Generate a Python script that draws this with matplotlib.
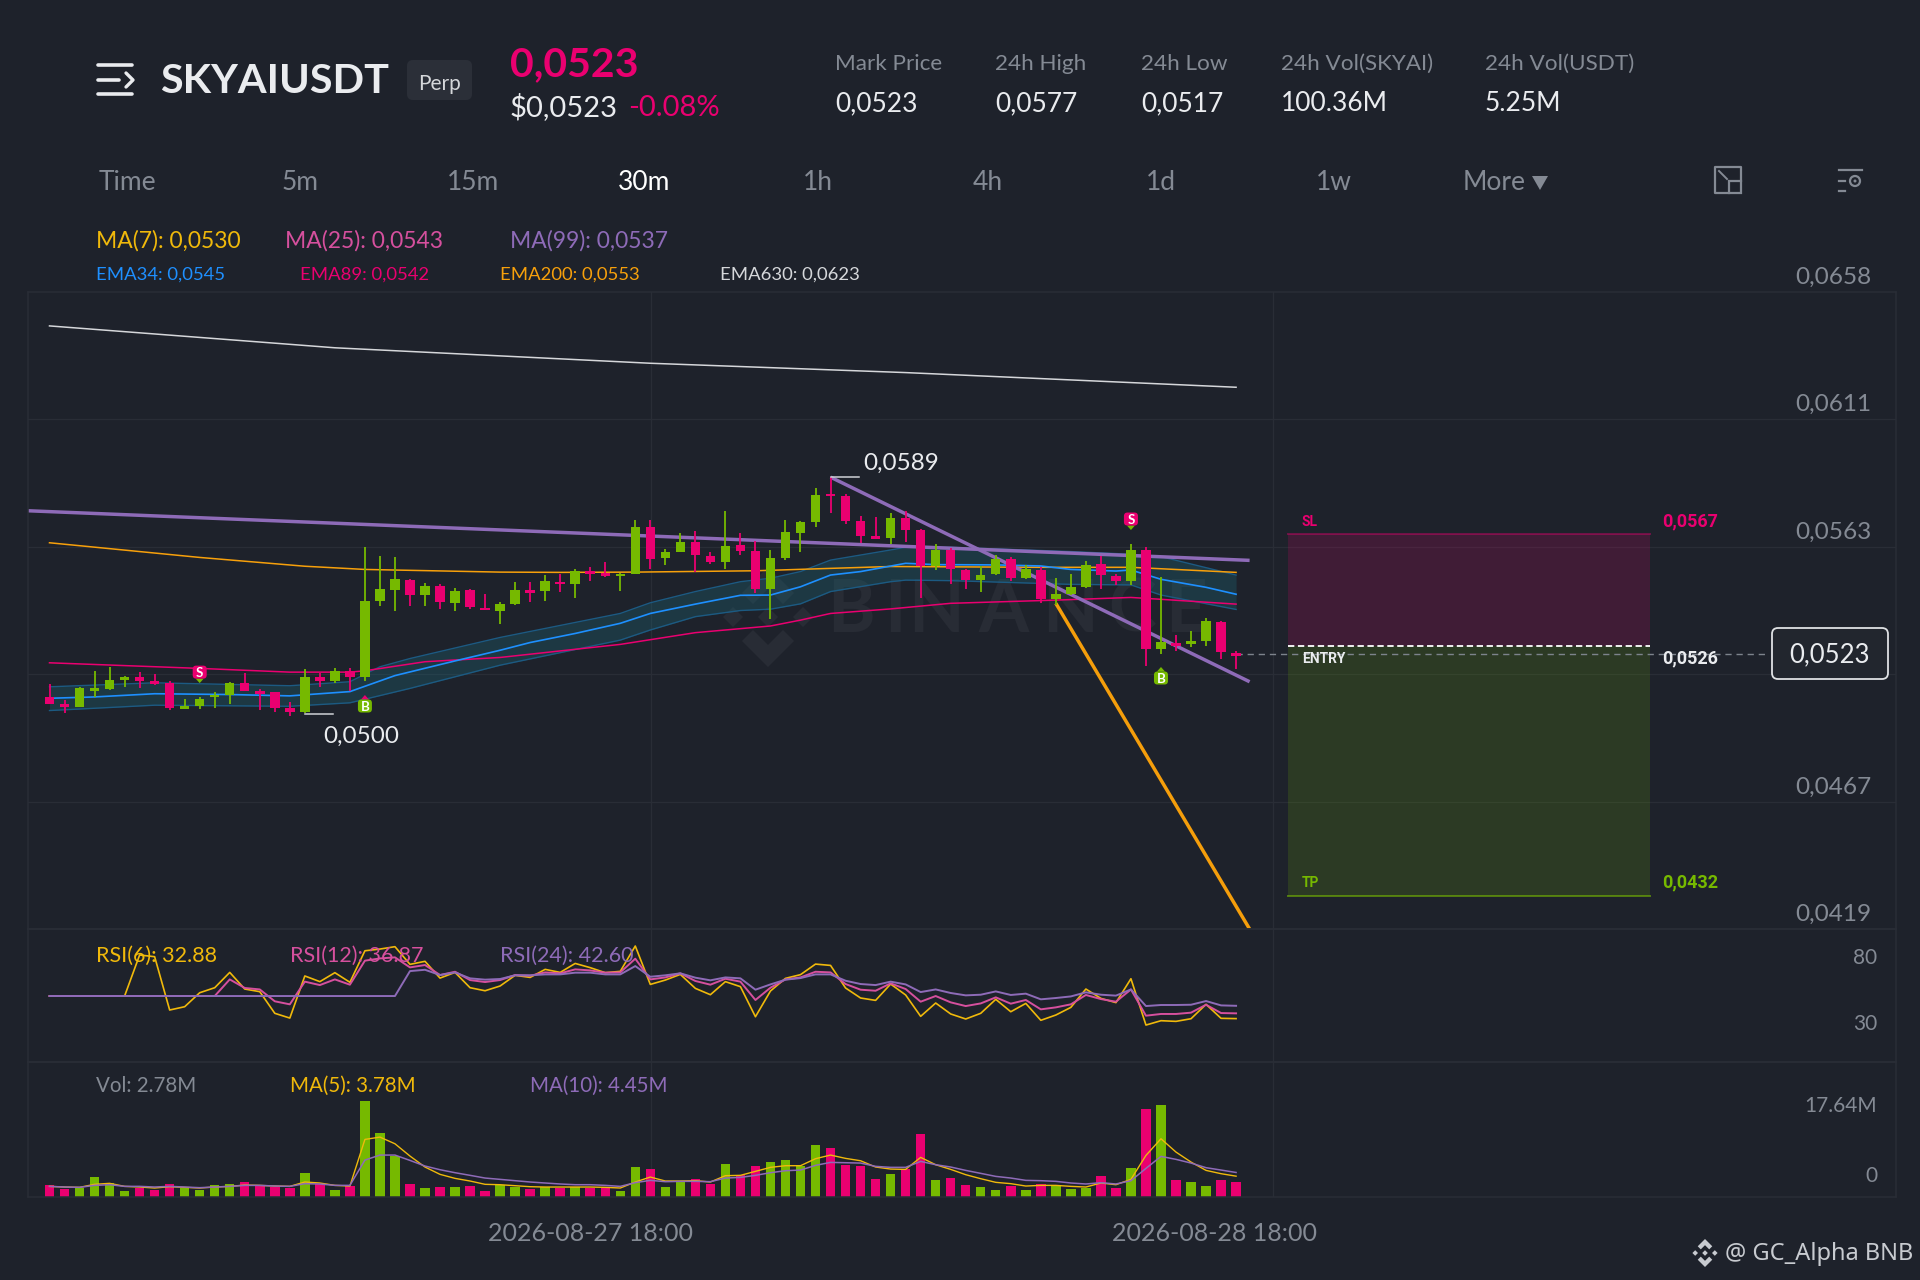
import numpy as np
import matplotlib
matplotlib.use("Agg")
import matplotlib.pyplot as plt
from matplotlib.patches import FancyBboxPatch, Polygon, Circle, Rectangle

W, H = 1920, 1280
BG = '#1e222b'
GRID = '#292d36'
UP = '#76b900'
DOWN = '#ea0070'
PURPLE = '#8e6bb8'
GREY = '#848a94'
plt.rcParams['font.family'] = ['Lato', 'DejaVu Sans']

# ----------------- velas (precio x 1e5) -----------------
directions = ("RRGGGGRRRGGGGRRRRGRGRGGGRGRGRR"
              "GGRGRGRRGGRGGRRGRRGGGGRRRR"
              "GRRGRRGGRGRGGGRRGRGRGGRR")
highs = [5110, 5050, 5098, 5158, 5173, 5138, 5153, 5145, 5119, 5054, 5060, 5078, 5117, 5150, 5088,
         5078, 5040, 5166, 5150, 5167, 5167, 5623, 5590, 5583, 5502, 5487, 5483, 5467, 5464, 5446,
         5416, 5490, 5491, 5516, 5521, 5538, 5547, 5566, 5524, 5725, 5722, 5615, 5674, 5682, 5605,
         5756, 5676, 5643, 5610, 5722, 5721, 5844, 5884, 5822, 5739, 5736,
         5751, 5757, 5691, 5632, 5619, 5540, 5550, 5591, 5585, 5554, 5549, 5506, 5522, 5570, 5590,
         5522, 5632, 5621, 5508, 5291, 5307, 5356, 5344, 5231]
body_tops = [5061, 5034, 5092, 5093, 5122, 5133, 5133, 5118, 5114, 5026, 5054, 5067, 5114, 5114, 5082,
             5077, 5020, 5133, 5134, 5158, 5157, 5419, 5463, 5502, 5498, 5477, 5475, 5459, 5462, 5395,
             5407, 5460, 5460, 5494, 5492, 5534, 5531, 5524, 5522, 5696, 5696, 5604, 5642, 5642, 5590,
             5625, 5628, 5607, 5580, 5677, 5716, 5817, 5822, 5812, 5720, 5662,
             5731, 5731, 5685, 5612, 5612, 5537, 5518, 5577, 5576, 5539, 5537, 5446, 5472, 5556, 5557,
             5513, 5611, 5611, 5265, 5261, 5271, 5344, 5342, 5223]
body_bottoms = [5034, 5022, 5023, 5083, 5089, 5122, 5120, 5108, 5019, 5016, 5026, 5058, 5069, 5083, 5072,
                5019, 5004, 5003, 5119, 5119, 5136, 5136, 5420, 5460, 5442, 5442, 5417, 5414, 5397, 5387,
                5384, 5410, 5450, 5457, 5482, 5485, 5521, 5514, 5514, 5522, 5577, 5582, 5605, 5591, 5567,
                5567, 5608, 5465, 5465, 5582, 5676, 5714, 5812, 5721, 5665, 5652,
                5656, 5686, 5552, 5551, 5540, 5497, 5497, 5521, 5507, 5505, 5427, 5427, 5447, 5472, 5518,
                5496, 5496, 5241, 5241, 5251, 5260, 5270, 5227, 5215]
lows = [5034, 4998, 5023, 5060, 5087, 5098, 5095, 5104, 5012, 5014, 5014, 5017, 5033, 5082, 5010,
        5003, 4990, 4998, 5098, 5114, 5084, 5120, 5402, 5383, 5402, 5402, 5390, 5383, 5388, 5385,
        5334, 5404, 5417, 5421, 5455, 5431, 5494, 5511, 5457, 5522, 5540, 5556, 5604, 5530, 5557,
        5541, 5593, 5449, 5352, 5575, 5605, 5697, 5749, 5709, 5636, 5651,
        5634, 5641, 5430, 5535, 5484, 5465, 5452, 5518, 5493, 5501, 5411, 5405, 5441, 5470, 5465,
        5479, 5480, 5177, 5222, 5232, 5247, 5251, 5203, 5165]

# ----------------- medias -----------------
ema630_idx = [1, 20, 41, 58, 80]
ema630 = [6451, 6369, 6311, 6276, 6221]

ema200_idx = [1, 11, 18, 22, 31, 35, 40, 48, 53, 57, 67, 73, 80]
ema200 = [5638, 5583, 5550, 5538, 5528, 5527, 5528, 5533, 5542, 5549, 5546, 5546, 5527]

ema89_idx = [1, 11, 17, 21, 22, 26, 31, 39, 44, 49, 51, 53, 57, 61, 68, 73, 75, 80]
ema89 = [5188, 5167, 5153, 5153, 5158, 5192, 5208, 5257, 5301, 5326, 5348, 5373, 5390, 5411, 5423,
         5433, 5426, 5408]

ema34_idx = [1, 4, 8, 13, 17, 21, 24, 28, 31, 33, 36, 39, 41, 44, 47, 49, 51, 53, 55, 58, 60, 64, 67,
             69, 72, 73, 75, 78, 80]
ema34 = [5055, 5060, 5072, 5069, 5064, 5080, 5140, 5195, 5235, 5264, 5298, 5336, 5373, 5408, 5441,
         5442, 5473, 5517, 5530, 5561, 5556, 5555, 5551, 5538, 5532, 5536, 5501, 5471, 5445]

band_idx = [1, 8, 17, 21, 23, 25, 31, 39, 41, 44, 47, 49, 51, 53, 57, 58, 61, 69, 73, 75, 80]
band_upper = [5098, 5113, 5102, 5117, 5173, 5204, 5283, 5373, 5413, 5455, 5492, 5505, 5530, 5573, 5611,
              5621, 5621, 5605, 5595, 5586, 5517]
band_lower = [5009, 5029, 5025, 5038, 5065, 5092, 5179, 5273, 5311, 5361, 5384, 5389, 5409, 5455, 5492,
              5498, 5496, 5482, 5480, 5442, 5388]

# dibujos sobre el grafico: (indice, precio x 1e5)
trend_flat = ([-0.43, 80.9], [5758, 5572])
trend_down = ([53, 80.9], [5884, 5117])
trend_orange = ([68, 80.9], [5411, 4190])

# ----------------- RSI -----------------
rsi6 = [50.0, 50.0, 50.0, 50.0, 50.0, 50.0, 81.1, 79.8, 39.4, 41.9, 52.5, 56.3, 67.9, 55.3, 53.3, 36.9,
        33.3, 65.2, 60.9, 67.7, 60.4, 84.3, 85.6, 87.4, 74.0, 76.3, 63.6, 67.9, 56.3, 54.0, 57.6, 65.7,
        64.1, 70.2, 67.9, 74.7, 71.5, 67.7, 68.7, 87.9, 58.8, 62.1, 66.4, 55.8, 51.0, 60.9, 57.1, 34.3,
        53.8, 63.4, 66.2, 74.2, 73.2, 56.1, 48.5, 46.7, 59.1, 50.8, 34.6, 44.7, 36.4, 32.6, 36.9, 47.5,
        38.1, 44.4, 31.6, 35.6, 41.4, 55.3, 48.2, 45.0, 63.1, 28.0, 31.3, 30.8, 32.8, 43.7, 33.1, 32.88]
rsi12 = [50.0, 50.0, 50.0, 50.0, 50.0, 50.0, 50.0, 50.0, 50.0, 50.0, 50.0, 50.0, 62.6, 56.1, 55.0, 46.0,
         43.7, 60.9, 58.3, 62.6, 58.6, 76.8, 78.5, 79.3, 71.7, 73.5, 65.9, 68.4, 62.1, 60.6, 62.1, 65.9,
         65.4, 67.9, 67.2, 70.2, 69.4, 67.7, 67.9, 78.3, 62.6, 64.1, 67.2, 61.4, 58.6, 63.1, 60.9, 47.0,
         56.3, 62.6, 64.1, 68.4, 67.9, 59.1, 54.8, 54.0, 59.6, 55.3, 45.7, 50.0, 45.2, 42.4, 44.4, 49.0,
         44.2, 47.0, 39.9, 41.4, 43.7, 50.8, 47.7, 45.7, 55.0, 35.1, 36.4, 36.4, 37.4, 43.4, 37.1, 36.87]
rsi24 = [50.0, 50.0, 50.0, 50.0, 50.0, 50.0, 50.0, 50.0, 50.0, 50.0, 50.0, 50.0, 50.0, 50.0, 50.0, 50.0,
         50.0, 50.0, 50.0, 50.0, 50.0, 50.0, 50.0, 50.0, 68.9, 69.9, 65.9, 67.9, 63.4, 62.4, 62.9, 65.7,
         65.7, 66.4, 66.4, 67.7, 67.7, 66.4, 66.4, 72.7, 64.6, 65.7, 67.2, 63.9, 61.9, 64.1, 63.4, 54.8,
         58.8, 62.4, 63.6, 66.4, 66.4, 61.6, 59.1, 58.3, 60.9, 58.8, 53.0, 55.0, 52.3, 50.5, 51.0, 53.5,
         50.8, 51.8, 47.5, 48.5, 49.7, 52.8, 51.0, 50.3, 55.0, 42.4, 43.2, 43.2, 43.4, 46.2, 42.9, 42.6]

# ----------------- volumen (millones) -----------------
volume = [2.23, 1.51, 1.57, 3.56, 2.54, 1.15, 1.63, 1.21, 2.36, 1.57, 1.27, 2.17, 2.30, 2.66, 1.93, 1.75,
          1.63, 4.41, 2.30, 1.33, 1.93, 17.46, 11.66, 7.43, 2.42, 1.63, 1.75, 1.87, 1.93, 1.15, 2.11, 1.75,
          1.51, 1.75, 1.57, 1.81, 1.63, 1.63, 1.15, 5.44, 5.13, 1.81, 2.72, 3.26, 2.42, 5.98, 4.05, 5.62,
          6.40, 6.70, 5.62, 9.36, 8.88, 5.86, 5.68, 3.20, 4.11, 5.13, 11.42, 3.14, 3.44, 2.11, 1.81, 1.33,
          1.93, 1.33, 2.42, 2.11, 1.39, 1.63, 3.74, 1.69, 5.32, 15.95, 16.73, 3.14, 2.72, 2.05, 3.14, 2.78]
vol_ma5 = [1.93, 1.81, 1.75, 2.30, 2.48, 1.93, 1.81, 1.63, 1.87, 1.75, 1.63, 1.81, 1.93, 2.17, 2.11, 1.99,
           1.93, 2.72, 2.54, 2.11, 1.99, 10.45, 10.87, 9.66, 7.43, 5.44, 4.11, 3.38, 2.90, 2.30, 2.23, 2.05,
           1.87, 1.81, 1.81, 1.81, 1.81, 1.75, 1.63, 2.72, 3.62, 2.90, 2.90, 2.96, 2.72, 3.87, 3.93, 4.65,
           5.38, 5.68, 5.68, 6.95, 7.61, 7.01, 6.58, 5.44, 5.07, 5.01, 7.19, 5.86, 5.01, 4.05, 3.32, 2.66,
           2.42, 1.99, 2.11, 2.11, 1.93, 1.81, 2.54, 2.23, 3.20, 7.55, 10.57, 8.15, 6.34, 4.83, 4.23, 3.78]
vol_ma10 = [1.93, 1.81, 1.75, 2.11, 2.23, 1.93, 1.93, 1.81, 1.93, 1.81, 1.69, 1.81, 1.93, 2.11, 2.11, 1.99,
            1.93, 2.42, 2.36, 2.11, 2.11, 6.70, 7.61, 7.61, 6.64, 5.62, 4.95, 4.41, 3.93, 3.44, 3.20, 2.96,
            2.72, 2.54, 2.36, 2.23, 2.23, 2.11, 1.93, 2.60, 3.02, 2.78, 2.84, 2.84, 2.78, 3.44, 3.56, 3.93,
            4.41, 4.77, 4.89, 5.74, 6.28, 6.22, 6.16, 5.56, 5.38, 5.38, 6.46, 5.86, 5.44, 4.83, 4.29, 3.74,
            3.44, 3.02, 2.96, 2.84, 2.54, 2.36, 2.60, 2.36, 2.96, 5.19, 7.37, 6.83, 6.16, 5.32, 4.89, 4.45]

# operacion SL / entry / TP
sl_price, entry_price, tp_price = 0.0567, 0.0525, 0.04313
last_price = 0.05222
signals = [(11, 0.05153, 'S'), (22, 0.05026, 'B'), (73, 0.05727, 'S'), (75, 0.05131, 'B')]

price_labels = ['0,0658', '0,0611', '0,0563', '0,0467', '0,0419']
price_label_pos = [0.0658, 0.06102, 0.05624, 0.04668, 0.0419]
grid_prices = [0.06102, 0.05624, 0.05146, 0.04668]
divider_idx = [41.05, 82.46]

idx = np.arange(1, 81)
is_up = np.array([d == 'G' for d in directions])
highs, lows = np.array(highs) / 1e5, np.array(lows) / 1e5
body_tops, body_bottoms = np.array(body_tops) / 1e5, np.array(body_bottoms) / 1e5
colors = np.where(is_up, UP, DOWN)

fig = plt.figure(figsize=(W / 100, H / 100), dpi=100, facecolor=BG)


def panel(x0, y0, x1, y1, zorder=2):
    a = fig.add_axes([x0 / W, 1 - y1 / H, (x1 - x0) / W, (y1 - y0) / H], zorder=zorder)
    a.patch.set_alpha(0)
    return a


LEFT, RIGHT = 28, 1896
XLIM = (1 + (LEFT - 49.5) / 15.02, 1 + (RIGHT - 49.5) / 15.02)
ax_bg = panel(0, 0, W, H, zorder=0)
ax_price = panel(LEFT, 291.5, RIGHT, 929)
ax_rsi = panel(LEFT, 929, RIGHT, 1062)
ax_vol = panel(LEFT, 1062, RIGHT, 1197)
ax_top = panel(0, 0, W, H, zorder=5)
for a in (ax_bg, ax_top):
    a.set_xlim(0, W)
    a.set_ylim(H, 0)
    a.axis('off')

ax_price.set_ylim(0.0419, 0.0658)
ax_rsi.set_ylim(0, 100.8)
ax_vol.set_ylim(0, 24.5)
for a in (ax_price, ax_rsi, ax_vol):
    a.set_xlim(*XLIM)
    a.set_xticks([])
    a.set_yticks([])
    for s in a.spines.values():
        s.set_color(GRID)
        s.set_linewidth(1.1)
    for d in divider_idx:
        a.axvline(d, color=GRID, lw=0.9, zorder=0.5)
for g in grid_prices:
    ax_price.axhline(g, color=GRID, lw=0.9, zorder=0.5)


def x_px(i):
    return 49.5 + 15.02 * (i - 1)


def y_px(p):
    return 291.5 + (0.0658 - p) * 637.5 / 0.0239


def txt(x, y, s, color=GREY, size=16, ha='left', weight='normal', **kw):
    # Lato queda un poco alto con va='center'
    ax_top.text(x, y + 1.5, s, color=color, fontsize=size, ha=ha, va='center', fontweight=weight, **kw)


# ----------------- marca de agua -----------------
def logo(a, cx, cy, r, color, z=1):
    parts = [[(0, .2), (.2, 0), (0, -.2), (-.2, 0)],
             [(-.7, .2), (-.5, 0), (-.7, -.2), (-.9, 0)],
             [(.7, .2), (.9, 0), (.7, -.2), (.5, 0)],
             [(0, 1), (.52, .48), (.3, .26), (0, .56), (-.3, .26), (-.52, .48)],
             [(0, -1), (.52, -.48), (.3, -.26), (0, -.56), (-.3, -.26), (-.52, -.48)]]
    for p in parts:
        a.add_patch(Polygon([(cx + r * u, cy - r * v) for u, v in p], closed=True, color=color, lw=0, zorder=z))


logo(ax_bg, 768, 617, 50, '#282c35')
for x, letter in zip([851, 895, 936, 1003, 1070, 1132, 1186], 'BINANCE'):
    ax_bg.text(x, 611, letter, color='#282c35', fontsize=52, fontweight='bold', va='center', ha='center')

# ----------------- panel de precio -----------------
ax_price.fill_between(band_idx, np.array(band_lower) / 1e5, np.array(band_upper) / 1e5,
                      color='#1c7a8c', alpha=0.25, lw=0, zorder=1)
ax_price.plot(band_idx, np.array(band_upper) / 1e5, color='#1c5a82', lw=1.0, zorder=1.2)
ax_price.plot(band_idx, np.array(band_lower) / 1e5, color='#1c5a82', lw=1.0, zorder=1.2)
ax_price.plot(ema630_idx, np.array(ema630) / 1e5, color='#d5d7da', lw=1.1, zorder=1.5)
ax_price.plot(ema200_idx, np.array(ema200) / 1e5, color='#f7a00b', lw=1.1, zorder=1.5)
ax_price.plot(ema89_idx, np.array(ema89) / 1e5, color=DOWN, lw=1.1, zorder=1.5)
ax_price.plot(ema34_idx, np.array(ema34) / 1e5, color='#1e90ff', lw=1.2, zorder=1.6)

for xs, ys, col, lw in [(*trend_flat, PURPLE, 2.5), (*trend_down, PURPLE, 2.5), (*trend_orange, '#f59e0b', 2.5)]:
    ax_price.plot(xs, np.array(ys) / 1e5, color=col, lw=lw, zorder=2, solid_capstyle='butt')

ax_price.vlines(idx, lows, highs, colors=colors, lw=1.3, zorder=3)
ax_price.bar(idx, body_tops - body_bottoms, bottom=body_bottoms, width=0.63, color=colors, lw=0, zorder=3.1)

# caja SL / TP
box_x0, box_x1 = 83.46, 107.56
ax_price.fill_between([box_x0, box_x1], entry_price, sl_price, color=DOWN, alpha=0.17, lw=0, zorder=1)
ax_price.fill_between([box_x0, box_x1], tp_price, entry_price, color=UP, alpha=0.16, lw=0, zorder=1)
ax_price.plot([box_x0, box_x1], [sl_price, sl_price], color=DOWN, alpha=0.4, lw=1.4, zorder=1.1)
ax_price.plot([box_x0, box_x1], [tp_price, tp_price], color=UP, alpha=0.6, lw=1.4, zorder=1.1)
ax_price.plot([box_x0, box_x1], [entry_price, entry_price], color='white', lw=1.3, ls=(0, (3.5, 2)), zorder=1.3)
ax_price.plot([80, 1 + (1767 - 49.5) / 15.02], [last_price, last_price], color='#7d838c', lw=1.0,
              ls=(0, (4.5, 3.5)), zorder=1.4)

for lab, p in zip(price_labels, price_label_pos):
    txt(1871, y_px(p) - 16, lab, size=17.6, ha='right')

# senales S / B
for i, p, kind in signals:
    cx, cy = x_px(i), y_px(p)
    face = DOWN if kind == 'S' else UP
    tip = UP if kind == 'S' or i == 75 else DOWN
    sgn = 1 if kind == 'S' else -1
    ax_top.add_patch(Polygon([(cx - 4, cy + sgn * 6.5), (cx + 4, cy + sgn * 6.5), (cx, cy + sgn * 11)],
                             closed=True, color=tip, lw=0))
    ax_top.add_patch(FancyBboxPatch((cx - 4.5, cy - 4), 9, 8, boxstyle='round,pad=2.5,rounding_size=3.5',
                                    fc=face, ec='none'))
    txt(cx, cy - 1, kind, color='white', size=9.5, ha='center', weight='bold')

# maximo / minimo
ax_price.plot([idx[17], idx[17] + 1.87], [lows[17] - 0.00002] * 2, color='#cfd2d6', lw=1.1, zorder=3)
ax_price.plot([idx[52], idx[52] + 1.87], [highs[52]] * 2, color='#cfd2d6', lw=1.1, zorder=3)
txt(361, 735, '0,0500', color='#eaecef', size=17.5, ha='center')
txt(901, 461.5, '0,0589', color='#eaecef', size=17.5, ha='center')

# ----------------- RSI -----------------
ax_rsi.plot(idx, rsi6, color='#f0b90b', lw=1.2, zorder=2)
ax_rsi.plot(idx, rsi12, color='#d6509e', lw=1.4, zorder=2.1)
ax_rsi.plot(idx, rsi24, color=PURPLE, lw=1.4, zorder=2.2)

# ----------------- volumen -----------------
ax_vol.bar(idx, volume, width=0.63, color=colors, lw=0, zorder=2)
ax_vol.plot(idx, vol_ma5, color='#f0b90b', lw=1.0, zorder=3)
ax_vol.plot(idx, vol_ma10, color=PURPLE, lw=1.1, zorder=3)

txt(1877, 956, '80', size=15, ha='right')
txt(1877, 1022, '30', size=15, ha='right')
txt(1877, 1105, '17.64M', size=15, ha='right')
txt(1877, 1175, '0', size=15, ha='right')
txt(590, 1232, '2026-08-27 18:00', size=18, ha='center')
txt(1215, 1232, '2026-08-28 18:00', size=18, ha='center')

# ----------------- cabecera -----------------
for y in (65, 94):
    ax_top.plot([98, 132], [y, y], color='#eaecef', lw=2.6, solid_capstyle='round')
ax_top.plot([98, 119], [80, 80], color='#eaecef', lw=2.6, solid_capstyle='round')
ax_top.plot([126, 133, 126], [73, 80, 87], color='#eaecef', lw=2.4, solid_capstyle='round')
txt(160, 80, 'SKYAIUSDT', color='#eaecef', size=29.8, weight='bold')
ax_top.add_patch(FancyBboxPatch((411, 64), 57, 32, boxstyle='round,pad=4,rounding_size=6', fc='#2b2f38', ec='none'))
txt(440, 82, 'Perp', color='#d5d7da', size=15, ha='center')
txt(510, 63, '0,0523', color=DOWN, size=29.5, weight='bold')
txt(510, 106, '$0,0523', color='#eaecef', size=21)
txt(628, 106, '-0.08%', color=DOWN, size=21)

stat_x = [835, 995, 1141, 1281, 1485]
stat_names = ['Mark Price', '24h High', '24h Low', '24h Vol(SKYAI)', '24h Vol(USDT)']
stat_values = ['0,0523', '0,0577', '0,0517', '100.36M', '5.25M']
for x, n, v in zip(stat_x, stat_names, stat_values):
    txt(x, 62, n, size=16.2)
    txt(x, 102, v, color='#eaecef', size=19)

tab_x = [99, 282, 447, 618, 803, 973, 1146, 1316, 1463]
tab_names = ['Time', '5m', '15m', '30m', '1h', '4h', '1d', '1w', 'More']
for x, n in zip(tab_x, tab_names):
    txt(x, 181, n, color='white' if n == '30m' else GREY, size=19)
ax_top.add_patch(Polygon([(1532, 176), (1548, 176), (1540, 190)], closed=True, color=GREY, lw=0))

# iconos
ax_top.plot([1729, 1715, 1715, 1741, 1741], [193, 193, 167, 167, 181], color=GREY, lw=1.6)
ax_top.add_patch(Rectangle((1729, 181), 12, 12, fc='none', ec=GREY, lw=1.6))
ax_top.plot([1719, 1727], [171, 179], color=GREY, lw=1.4)
ax_top.plot([1839, 1862], [170, 170], color=GREY, lw=1.6)
ax_top.plot([1839, 1845], [181, 181], color=GREY, lw=1.6)
ax_top.plot([1839, 1845], [191, 191], color=GREY, lw=1.6)
ax_top.add_patch(Circle((1855, 181), 5, fc='none', ec=GREY, lw=1.6))
ax_top.add_patch(Circle((1855, 181), 1.5, fc=GREY, ec='none'))

# ----------------- leyendas -----------------
txt(96, 239, 'MA(7): 0,0530', color='#f0b90b', size=16.5)
txt(285, 239, 'MA(25): 0,0543', color='#d6509e', size=16.5)
txt(510, 239, 'MA(99): 0,0537', color=PURPLE, size=16.5)
txt(96, 273, 'EMA34: 0,0545', color='#1e90ff', size=13.3)
txt(300, 273, 'EMA89: 0,0542', color=DOWN, size=13.3)
txt(500, 273, 'EMA200: 0,0553', color='#f7a00b', size=13.3)
txt(720, 273, 'EMA630: 0,0623', color='#d5d7da', size=13.3)
txt(96, 954.5, 'RSI(6): 32.88', color='#f0b90b', size=15.5)
txt(290, 954.5, 'RSI(12): 36.87', color='#d6509e', size=15.5)
txt(500, 954.5, 'RSI(24): 42.60', color=PURPLE, size=15.5)
txt(96, 1084.5, 'Vol: 2.78M', size=14.8)
txt(290, 1084.5, 'MA(5): 3.78M', color='#f0b90b', size=14.8)
txt(530, 1084.5, 'MA(10): 4.45M', color=PURPLE, size=14.8)

# etiquetas de la caja
for x, y, s, c, sz in [(1302, 522, 'SL', DOWN, 10), (1302, 659, 'ENTRY', '#eaecef', 10), (1302, 883, 'TP', UP, 10),
                       (1662, 521, '0,0567', DOWN, 13), (1662, 658, '0,0526', '#eaecef', 13),
                       (1662, 882, '0,0432', UP, 13)]:
    ax_top.text(x, y, s, color=c, fontsize=sz, fontweight='bold', family=['Roboto', 'DejaVu Sans'], va='center')

# precio actual
ax_top.add_patch(FancyBboxPatch((1777, 633), 106, 41, boxstyle='round,pad=5,rounding_size=6',
                                fc='#22262e', ec='#dfe1e4', lw=1.3))
txt(1830, 653, '0,0523', color='#eaecef', size=18.5, ha='center')

# firma
logo(ax_top, 1705, 1253, 14, '#c8cbd0')
ax_top.text(1725, 1254, '@ GC_Alpha BNB', color='#c8cbd0', fontsize=17, family=['Noto Sans', 'DejaVu Sans'],
            va='center')

fig.savefig('out.png', dpi=100, facecolor=BG)
plt.close(fig)
